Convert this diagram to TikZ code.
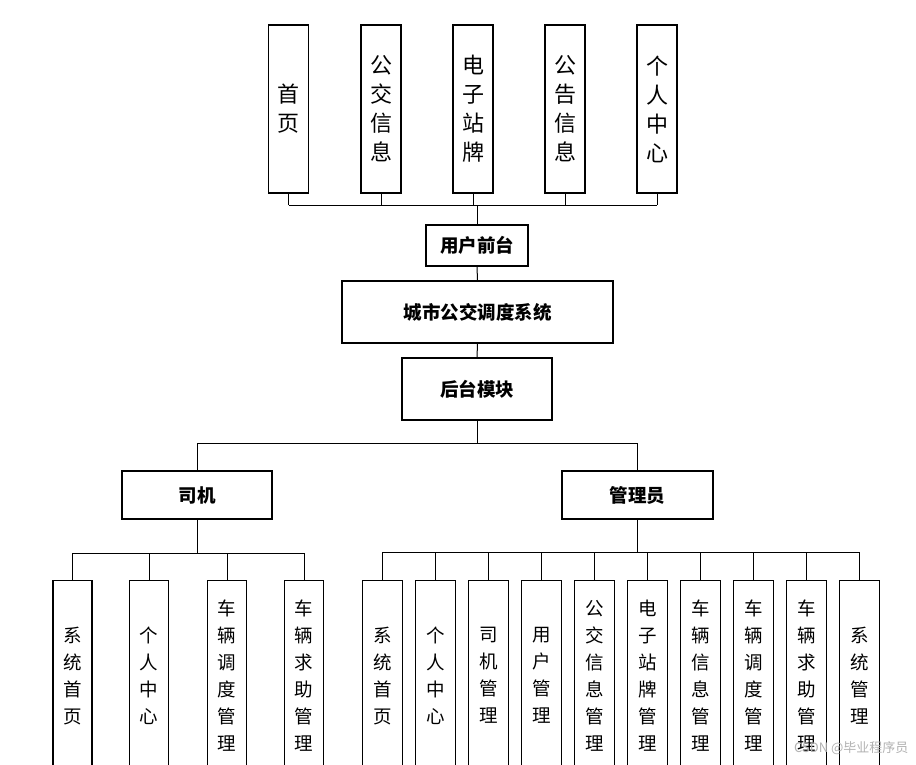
\documentclass[tikz,border=0pt]{standalone}
\usepackage{fontspec}
\newfontfamily\cjk{Noto Sans CJK SC}
\begin{document}
\begin{tikzpicture}[x=1pt,y=-1pt,
  box/.style={draw,line width=1.2pt,fill=white,inner sep=0pt},
  vtop/.style={box,minimum width=40pt,minimum height=168pt,font=\cjk\fontsize{22}{29}\selectfont,align=center},
  vleaf/.style={box,minimum width=39pt,minimum height=190pt,font=\cjk\fontsize{18.5}{27}\selectfont,align=center},
  mid/.style={box,font=\cjk\bfseries\fontsize{18.5}{20}\selectfont},
  ln/.style={line width=1pt}]
\useasboundingbox (0,0) rectangle (916,765);
\clip (0,0) rectangle (916,765);
\fill[white] (0,0) rectangle (916,765);
% top
\node[vtop] (t1) at (288.5,109) {首\\页};
\node[vtop] (t2) at (381,109) {公\\交\\信\\息};
\node[vtop] (t3) at (473,109) {电\\子\\站\\牌};
\node[vtop] (t4) at (565,109) {公\\告\\信\\息};
\node[vtop] (t5) at (657,109) {个\\人\\中\\心};
\node[mid,minimum width=102pt,minimum height=41pt] (qt) at (477,245.5) {用户前台};
\node[mid,minimum width=271pt,minimum height=62pt] (xt) at (477.5,312) {城市公交调度系统};
\node[mid,minimum width=150pt,minimum height=62pt] (ht) at (477,389) {后台模块};
\node[mid,minimum width=150pt,minimum height=48pt] (sj) at (197,495) {司机};
\node[mid,minimum width=151pt,minimum height=48pt] (gl) at (637.5,495) {管理员};
\coordinate (b1) at (477,205);
\foreach \n in {t1,t2,t3,t4,t5} \draw[ln] (\n.south) -- (\n.south |- b1);
\draw[ln] (t1.south |- b1) -- (t5.south |- b1);
\draw[ln] (b1) -- (qt.north);
\draw[ln] (qt.south) -- (xt.north);
\draw[ln] (xt.south) -- (ht.north);
\coordinate (b2) at (477,443);
\draw[ln] (ht.south) -- (b2);
\draw[ln] (sj.north |- b2) -- (gl.north |- b2);
\draw[ln] (sj.north |- b2) -- (sj.north);
\draw[ln] (gl.north |- b2) -- (gl.north);
% driver leaves
\node[vleaf,anchor=north] (d1) at (72.5,580) {系\\统\\首\\页};
\node[vleaf,anchor=north] (d2) at (149,580) {个\\人\\中\\心};
\node[vleaf,anchor=north] (d3) at (227,580) {车\\辆\\调\\度\\管\\理};
\node[vleaf,anchor=north] (d4) at (304,580) {车\\辆\\求\\助\\管\\理};
\coordinate (b3) at (197,553);
\draw[ln] (sj.south) -- (b3);
\draw[ln] (d1.north |- b3) -- (d4.north |- b3);
\foreach \n in {d1,d2,d3,d4} \draw[ln] (\n.north |- b3) -- (\n.north);
% admin leaves
\foreach \i/\t in {0/{系\\统\\首\\页},1/{个\\人\\中\\心},2/{司\\机\\管\\理},3/{用\\户\\管\\理},4/{公\\交\\信\\息\\管\\理},5/{电\\子\\站\\牌\\管\\理},6/{车\\辆\\信\\息\\管\\理},7/{车\\辆\\调\\度\\管\\理},8/{车\\辆\\求\\助\\管\\理},9/{系\\统\\管\\理}}
  \node[vleaf,minimum width=40pt,anchor=north] (a\i) at (382.5+53*\i,580) {\t};
\coordinate (b4) at (637.5,552);
\draw[ln] (gl.south) -- (b4);
\draw[ln] (a0.north |- b4) -- (a9.north |- b4);
\foreach \i in {0,...,9} \draw[ln] (a\i.north |- b4) -- (a\i.north);
\node[text=gray!60,font=\cjk\fontsize{13}{14}\selectfont,anchor=east] (wm) at (912,748) {CSDN @毕业程序员};
\end{tikzpicture}
\end{document}
